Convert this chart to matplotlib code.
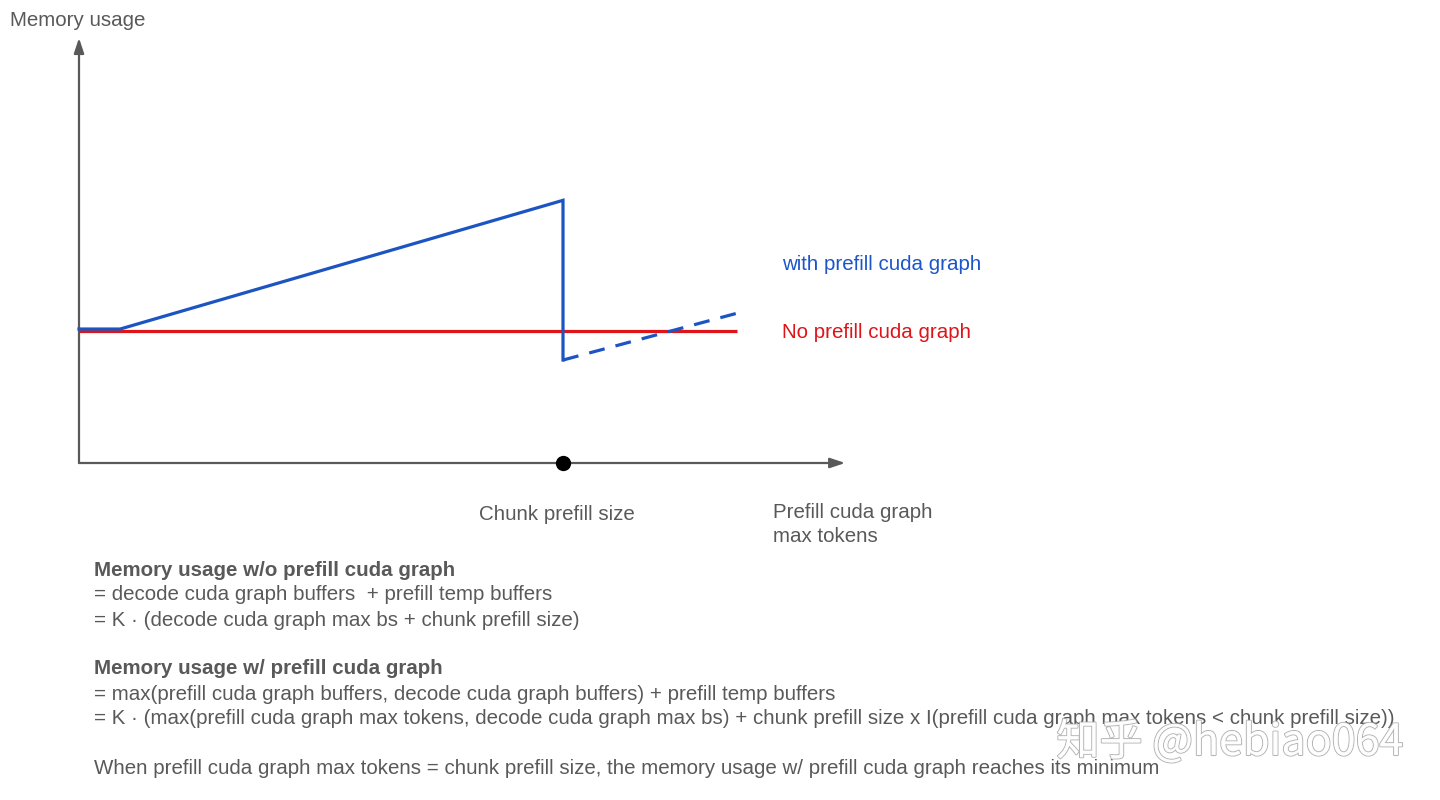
import matplotlib
matplotlib.use('Agg')
import matplotlib.pyplot as plt
import matplotlib.patheffects as pe

plt.rcParams['font.family'] = ['Liberation Sans', 'DejaVu Sans']

# data units: chunk prefill size = 1.0 on x, memory w/o prefill graph = 1.0 on y
no_graph_x = [0.0, 1.36]
no_graph_y = [1.0, 1.0]
with_graph_x = [0.0, 0.085, 1.0, 1.0]
with_graph_y = [1.015, 1.015, 1.99, 0.78]
with_graph_dash_x = [1.0, 1.37]
with_graph_dash_y = [0.78, 1.145]
chunk_x = [1.0]
chunk_y = [0.0]
x_axis_end = 1.583
y_axis_end = 3.22

GRAY = '#595959'
BLUE = '#1c55c2'
RED = '#df1418'

W, H = 1440, 800
fig = plt.figure(figsize=(14.4, 8), dpi=100)
ax = fig.add_axes([0, 0, 1, 1])
# map data so the origin sits at pixel (79, 463)
px_x, px_y = 484.0, 132.0
ax.set_xlim(-79 / px_x, (W - 79) / px_x)
ax.set_ylim((463 - H) / px_y, 463 / px_y)
ax.axis('off')

# axes with arrows
ax.annotate('', xy=(x_axis_end, 0), xytext=(0, 0),
            arrowprops=dict(arrowstyle='-|>,head_length=0.9,head_width=0.3',
                            color=GRAY, lw=1.6, shrinkA=0, shrinkB=0))
ax.annotate('', xy=(0, y_axis_end), xytext=(0, 0),
            arrowprops=dict(arrowstyle='-|>,head_length=0.9,head_width=0.3',
                            color=GRAY, lw=1.6, shrinkA=0, shrinkB=0))

ax.plot(no_graph_x, no_graph_y, color=RED, lw=2.3, solid_capstyle='butt', zorder=3)
ax.plot(with_graph_x, with_graph_y, color=BLUE, lw=2.3, solid_joinstyle='miter', zorder=4)
ax.plot(with_graph_dash_x, with_graph_dash_y, color=BLUE, lw=2.3,
        dashes=(5, 3.5), zorder=4)
ax.plot(chunk_x, chunk_y, 'o', color='black', markersize=10, zorder=5)


def txt(x, y, s, **kw):
    kw.setdefault('fontsize', 14.8)
    kw.setdefault('color', GRAY)
    kw.setdefault('va', 'center')
    fig.text(x / W, 1 - y / H, s, **kw)


txt(10, 21, 'Memory usage')
txt(782, 265, 'with prefill cuda graph', color='#1b55c9')
txt(782, 333, 'No prefill cuda graph', color=RED)
txt(557, 515, 'Chunk prefill size', ha='center')
txt(773, 512, 'Prefill cuda graph')
txt(773, 537, 'max tokens')

lines = [
    (570, 'Memory usage w/o prefill cuda graph', 'bold'),
    (595, '= decode cuda graph buffers  + prefill temp buffers', 'normal'),
    (620, '= K \u00b7 (decode cuda graph max bs + chunk prefill size)', 'normal'),
    (669, 'Memory usage w/ prefill cuda graph', 'bold'),
    (694, '= max(prefill cuda graph buffers, decode cuda graph buffers) + prefill temp buffers', 'normal'),
    (719, '= K \u00b7 (max(prefill cuda graph max tokens, decode cuda graph max bs) + chunk prefill size x I(prefill cuda graph max tokens < chunk prefill size))', 'normal'),
    (769, 'When prefill cuda graph max tokens = chunk prefill size, the memory usage w/ prefill cuda graph reaches its minimum', 'normal'),
]
for y, s, w in lines:
    txt(94, y, s, fontweight=w)

# watermark
fig.text(1230 / W, 1 - 743 / H, '知乎 @hebiao064', fontsize=31, color='white',
         ha='center', va='center', family=['Noto Sans CJK SC', 'DejaVu Sans'],
         alpha=0.85,
         path_effects=[pe.withStroke(linewidth=1.5, foreground='#a8a8a8'), pe.Normal()])

fig.savefig('out.png', dpi=100, facecolor='white')
